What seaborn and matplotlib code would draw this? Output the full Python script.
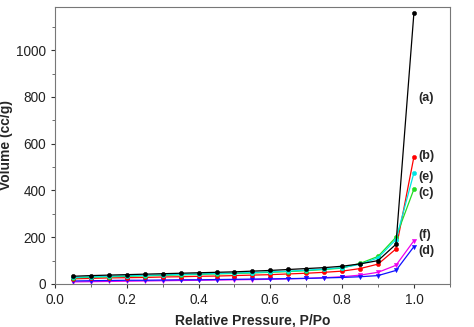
import numpy as np
import pandas as pd
import matplotlib
matplotlib.use("Agg")
import matplotlib.pyplot as plt
import seaborn as sns
from matplotlib.ticker import MultipleLocator

# Relative pressure points
pressure = [0.05, 0.10, 0.15, 0.20, 0.25, 0.30, 0.35, 0.40, 0.45, 0.50,
            0.55, 0.60, 0.65, 0.70, 0.75, 0.80, 0.85, 0.90, 0.95, 1.00]

vol_a = [33, 36, 38, 40, 42, 44, 46, 48, 50, 52, 55, 58, 62, 66, 70, 76, 86, 100, 170, 1160]
vol_b = [22, 24, 26, 27, 28, 30, 31, 33, 34, 36, 38, 40, 43, 46, 50, 55, 66, 85, 150, 544]
vol_c = [26, 29, 31, 33, 35, 37, 39, 41, 43, 45, 47, 50, 53, 57, 62, 68, 88, 118, 200, 406]
vol_d = [13, 14, 15, 16, 16, 17, 18, 18, 19, 20, 21, 22, 23, 24, 26, 28, 31, 36, 58, 160]
vol_e = [28, 31, 33, 35, 37, 39, 41, 43, 45, 47, 49, 52, 55, 59, 64, 70, 84, 112, 190, 476]
vol_f = [9, 10, 11, 12, 13, 14, 15, 16, 17, 18, 19, 20, 22, 24, 27, 31, 38, 50, 80, 185]

labels = ["(a)", "(b)", "(c)", "(d)", "(e)", "(f)"]
colors = ["#000000", "#ff0000", "#22dd22", "#1010ff", "#00e5e5", "#ee00ee"]
markers = ["o", "o", "o", "v", "o", "v"]
label_y = [795, 547, 389, 141, 457, 209]

series = [vol_a, vol_b, vol_c, vol_d, vol_e, vol_f]

sns.set_style("white")
plt.rcParams["font.family"] = ["Liberation Sans", "DejaVu Sans"]

fig = plt.figure(figsize=(4.74, 3.27), dpi=100)
ax = fig.add_axes([0.116, 0.1315, 0.833, 0.8475])

order = [5, 3, 1, 2, 4, 0]
for i in order:
    d = pd.DataFrame({"P": pressure, "V": series[i]})
    sns.lineplot(data=d, x="P", y="V", color=colors[i], marker=markers[i],
                 markersize=3, markeredgewidth=0.4, markeredgecolor=colors[i],
                 markerfacecolor=colors[i], linewidth=0.9, ax=ax, legend=False)

for lab, y in zip(labels, label_y):
    ax.text(1.012, y, lab, fontsize=9, fontweight="bold", ha="left", va="center")

ax.set_xlim(0, 1.1)
ax.set_ylim(0, 1185)
ax.xaxis.set_major_locator(MultipleLocator(0.2))
ax.xaxis.set_minor_locator(MultipleLocator(0.1))
ax.yaxis.set_major_locator(MultipleLocator(200))
ax.yaxis.set_minor_locator(MultipleLocator(100))
ax.xaxis.set_major_formatter(matplotlib.ticker.FormatStrFormatter("%.1f"))
ax.tick_params(axis="both", which="major", direction="out", length=3, width=0.8,
               labelsize=9.8, colors="#333333", labelcolor="#222222", bottom=True, left=True)
ax.tick_params(axis="both", which="minor", direction="out", length=2, width=0.6,
               colors="#555555", bottom=True, left=True)
for sp in ax.spines.values():
    sp.set_color("#777777")
    sp.set_linewidth(0.8)

ax.set_xlabel("Relative Pressure, P/Po", fontsize=10, fontweight="bold", labelpad=5)
ax.set_ylabel("Volume (cc/g)", fontsize=10, fontweight="bold", labelpad=2)

fig.savefig("out.png", dpi=100)
